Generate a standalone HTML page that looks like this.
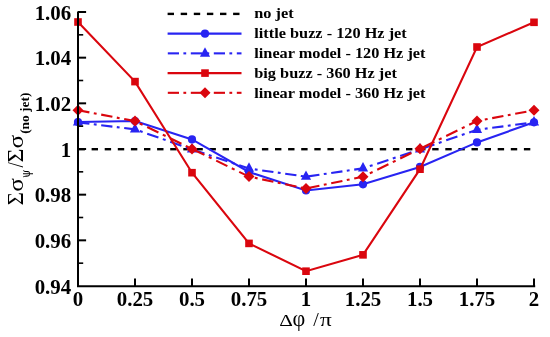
<!DOCTYPE html>
<html><head><meta charset="utf-8"><title>chart</title>
<style>
html,body{margin:0;padding:0;background:#fff;}
body{width:550px;height:337px;overflow:hidden;}
svg{display:block;}
</style></head><body>
<svg width="550" height="337" viewBox="0 0 550 337">
<rect width="550" height="337" fill="#fff"/>
<g font-family="Liberation Serif, serif" font-weight="bold" font-size="20" fill="#000">
<text transform="translate(71.2,293.60) scale(1.045,1)" text-anchor="end">0.94</text>
<text transform="translate(71.2,247.93) scale(1.045,1)" text-anchor="end">0.96</text>
<text transform="translate(71.2,202.27) scale(1.045,1)" text-anchor="end">0.98</text>
<text transform="translate(71.2,156.60) scale(1.045,1)" text-anchor="end">1</text>
<text transform="translate(71.2,110.93) scale(1.045,1)" text-anchor="end">1.02</text>
<text transform="translate(71.2,65.27) scale(1.045,1)" text-anchor="end">1.04</text>
<text transform="translate(71.2,19.60) scale(1.045,1)" text-anchor="end">1.06</text>
<text transform="translate(78,306.1) scale(1.045,1)" text-anchor="middle">0</text>
<text transform="translate(135,306.1) scale(1.045,1)" text-anchor="middle">0.25</text>
<text transform="translate(192,306.1) scale(1.045,1)" text-anchor="middle">0.5</text>
<text transform="translate(249,306.1) scale(1.045,1)" text-anchor="middle">0.75</text>
<text transform="translate(306,306.1) scale(1.045,1)" text-anchor="middle">1</text>
<text transform="translate(363,306.1) scale(1.045,1)" text-anchor="middle">1.25</text>
<text transform="translate(420,306.1) scale(1.045,1)" text-anchor="middle">1.5</text>
<text transform="translate(477,306.1) scale(1.045,1)" text-anchor="middle">1.75</text>
<text transform="translate(534,306.1) scale(1.045,1)" text-anchor="middle">2</text>
</g>
<g font-family="Liberation Serif, serif" fill="#000">
<text transform="translate(279.35,326.30) scale(1.200,1)" font-size="17.7" font-weight="normal">Δ</text>
<text transform="translate(292.60,326.30) scale(0.980,1)" font-size="22.5" font-weight="normal">φ</text>
<text transform="translate(313.29,326.30) scale(1.080,1)" font-size="18.5" font-weight="normal">/</text>
<text transform="translate(320.07,326.30) scale(1.300,1)" font-size="17.9" font-weight="normal">π</text>
</g>
<g transform="rotate(-90)" font-family="Liberation Serif, serif" fill="#000">
<text transform="translate(-205.20,22.50) scale(1.000,1)" font-size="22.6" font-weight="normal">Σ</text>
<text transform="translate(-191.81,23.20) scale(1.200,1)" font-size="21" font-weight="normal">σ</text>
<text transform="translate(-177.95,29.5) scale(0.86,1)" font-family="DejaVu Serif, serif" font-size="12.5">ψ</text>
<text transform="translate(-167.41,22.50) scale(0.850,1)" font-size="22.6" font-weight="normal">/</text>
<text transform="translate(-162.46,22.50) scale(1.060,1)" font-size="22.6" font-weight="normal">Σ</text>
<text transform="translate(-148.51,23.20) scale(1.200,1)" font-size="21" font-weight="normal">σ</text>
<text transform="translate(-133.84,28.50) scale(1.080,1)" font-size="12.4" font-weight="bold">(no jet)</text>
</g>
<g stroke="#000" stroke-width="2.4" fill="none"><line x1="78.50" y1="149.20" x2="84.90" y2="149.20"/><line x1="91.60" y1="149.20" x2="98.00" y2="149.20"/><line x1="104.70" y1="149.20" x2="111.10" y2="149.20"/><line x1="117.80" y1="149.20" x2="124.20" y2="149.20"/><line x1="130.90" y1="149.20" x2="137.30" y2="149.20"/><line x1="144.00" y1="149.20" x2="150.40" y2="149.20"/><line x1="157.10" y1="149.20" x2="163.50" y2="149.20"/><line x1="170.20" y1="149.20" x2="176.60" y2="149.20"/><line x1="183.30" y1="149.20" x2="189.70" y2="149.20"/><line x1="196.40" y1="149.20" x2="202.80" y2="149.20"/><line x1="209.50" y1="149.20" x2="215.90" y2="149.20"/><line x1="222.60" y1="149.20" x2="229.00" y2="149.20"/><line x1="235.70" y1="149.20" x2="242.10" y2="149.20"/><line x1="248.80" y1="149.20" x2="255.20" y2="149.20"/><line x1="261.90" y1="149.20" x2="268.30" y2="149.20"/><line x1="275.00" y1="149.20" x2="281.40" y2="149.20"/><line x1="288.10" y1="149.20" x2="294.50" y2="149.20"/><line x1="301.20" y1="149.20" x2="307.60" y2="149.20"/><line x1="314.30" y1="149.20" x2="320.70" y2="149.20"/><line x1="327.40" y1="149.20" x2="333.80" y2="149.20"/><line x1="340.50" y1="149.20" x2="346.90" y2="149.20"/><line x1="353.60" y1="149.20" x2="360.00" y2="149.20"/><line x1="366.70" y1="149.20" x2="373.10" y2="149.20"/><line x1="379.80" y1="149.20" x2="386.20" y2="149.20"/><line x1="392.90" y1="149.20" x2="399.30" y2="149.20"/><line x1="406.00" y1="149.20" x2="412.40" y2="149.20"/><line x1="419.10" y1="149.20" x2="425.50" y2="149.20"/><line x1="432.20" y1="149.20" x2="438.60" y2="149.20"/><line x1="445.30" y1="149.20" x2="451.70" y2="149.20"/><line x1="458.40" y1="149.20" x2="464.80" y2="149.20"/><line x1="471.50" y1="149.20" x2="477.90" y2="149.20"/><line x1="484.60" y1="149.20" x2="491.00" y2="149.20"/><line x1="497.70" y1="149.20" x2="504.10" y2="149.20"/><line x1="510.80" y1="149.20" x2="517.20" y2="149.20"/><line x1="523.90" y1="149.20" x2="530.30" y2="149.20"/></g>
<polyline points="78.00,122.00 135.00,121.00 192.00,139.40 249.00,172.00 306.00,190.50 363.00,184.30 420.00,166.90 477.00,142.40 534.00,122.30" fill="none" stroke="#2824f2" stroke-width="2.1"/>
<circle cx="78" cy="122" r="4.1" fill="#2824f2"/>
<circle cx="135" cy="121" r="4.1" fill="#2824f2"/>
<circle cx="192" cy="139.4" r="4.1" fill="#2824f2"/>
<circle cx="249" cy="172" r="4.1" fill="#2824f2"/>
<circle cx="306" cy="190.5" r="4.1" fill="#2824f2"/>
<circle cx="363" cy="184.3" r="4.1" fill="#2824f2"/>
<circle cx="420" cy="166.9" r="4.1" fill="#2824f2"/>
<circle cx="477" cy="142.4" r="4.1" fill="#2824f2"/>
<circle cx="534" cy="122.3" r="4.1" fill="#2824f2"/>
<g stroke="#2824f2" stroke-width="2.1" fill="none"><line x1="78.20" y1="122.39" x2="89.40" y2="123.77"/><line x1="93.80" y1="124.31" x2="96.60" y2="124.65"/><line x1="101.20" y1="125.22" x2="112.40" y2="126.59"/><line x1="116.80" y1="127.13" x2="119.60" y2="127.48"/><polyline points="124.20,128.04 135.00,129.37 135.40,129.51"/><line x1="139.80" y1="131.05" x2="142.60" y2="132.04"/><line x1="147.20" y1="133.65" x2="158.40" y2="137.58"/><line x1="162.80" y1="139.12" x2="165.60" y2="140.11"/><line x1="170.20" y1="141.72" x2="181.40" y2="145.65"/><line x1="185.80" y1="147.19" x2="188.60" y2="148.18"/><line x1="193.20" y1="149.77" x2="204.40" y2="153.55"/><line x1="208.80" y1="155.03" x2="211.60" y2="155.97"/><line x1="216.20" y1="157.52" x2="227.40" y2="161.29"/><line x1="231.80" y1="162.78" x2="234.60" y2="163.72"/><polyline points="239.20,165.27 249.00,168.57 250.40,168.77"/><line x1="254.80" y1="169.39" x2="257.60" y2="169.79"/><line x1="262.20" y1="170.45" x2="273.40" y2="172.04"/><line x1="277.80" y1="172.66" x2="280.60" y2="173.06"/><line x1="285.20" y1="173.71" x2="296.40" y2="175.31"/><line x1="300.80" y1="175.93" x2="303.60" y2="176.33"/><line x1="308.20" y1="176.35" x2="319.40" y2="174.72"/><line x1="323.80" y1="174.08" x2="326.60" y2="173.67"/><line x1="331.20" y1="173.00" x2="342.40" y2="171.37"/><line x1="346.80" y1="170.73" x2="349.60" y2="170.32"/><polyline points="354.20,169.65 363.00,168.37 365.40,167.57"/><line x1="369.80" y1="166.10" x2="372.60" y2="165.17"/><line x1="377.20" y1="163.64" x2="388.40" y2="159.90"/><line x1="392.80" y1="158.44" x2="395.60" y2="157.50"/><line x1="400.20" y1="155.97" x2="411.40" y2="152.24"/><line x1="415.80" y1="150.77" x2="418.60" y2="149.84"/><line x1="423.20" y1="148.27" x2="434.40" y2="144.42"/><line x1="438.80" y1="142.91" x2="441.60" y2="141.94"/><line x1="446.20" y1="140.36" x2="457.40" y2="136.51"/><line x1="461.80" y1="135.00" x2="464.60" y2="134.03"/><polyline points="469.20,132.45 477.00,129.77 480.40,129.33"/><line x1="484.80" y1="128.76" x2="487.60" y2="128.39"/><line x1="492.20" y1="127.80" x2="503.40" y2="126.34"/><line x1="507.80" y1="125.77" x2="510.60" y2="125.41"/><line x1="515.20" y1="124.81" x2="526.40" y2="123.36"/><line x1="530.80" y1="122.79" x2="533.60" y2="122.42"/></g>
<polygon points="78,116.10 83.10,125.50 72.90,125.50" fill="#2824f2"/>
<polygon points="135,123.10 140.10,132.50 129.90,132.50" fill="#2824f2"/>
<polygon points="192,143.10 197.10,152.50 186.90,152.50" fill="#2824f2"/>
<polygon points="249,162.30 254.10,171.70 243.90,171.70" fill="#2824f2"/>
<polygon points="306,170.40 311.10,179.80 300.90,179.80" fill="#2824f2"/>
<polygon points="363,162.10 368.10,171.50 357.90,171.50" fill="#2824f2"/>
<polygon points="420,143.10 425.10,152.50 414.90,152.50" fill="#2824f2"/>
<polygon points="477,123.50 482.10,132.90 471.90,132.90" fill="#2824f2"/>
<polygon points="534,116.10 539.10,125.50 528.90,125.50" fill="#2824f2"/>
<polyline points="78.00,22.00 135.00,81.60 192.00,172.70 249.00,243.40 306.00,271.20 363.00,254.85 420.00,169.20 477.00,47.00 534.00,22.30" fill="none" stroke="#da060e" stroke-width="2.1"/>
<rect x="74.20" y="18.20" width="7.6" height="7.6" fill="#da060e"/>
<rect x="131.20" y="77.80" width="7.6" height="7.6" fill="#da060e"/>
<rect x="188.20" y="168.90" width="7.6" height="7.6" fill="#da060e"/>
<rect x="245.20" y="239.60" width="7.6" height="7.6" fill="#da060e"/>
<rect x="302.20" y="267.40" width="7.6" height="7.6" fill="#da060e"/>
<rect x="359.20" y="251.05" width="7.6" height="7.6" fill="#da060e"/>
<rect x="416.20" y="165.40" width="7.6" height="7.6" fill="#da060e"/>
<rect x="473.20" y="43.20" width="7.6" height="7.6" fill="#da060e"/>
<rect x="530.20" y="18.50" width="7.6" height="7.6" fill="#da060e"/>
<g stroke="#da060e" stroke-width="2.1" fill="none"><line x1="78.20" y1="110.24" x2="89.40" y2="112.38"/><line x1="93.80" y1="113.22" x2="96.60" y2="113.76"/><line x1="101.20" y1="114.64" x2="112.40" y2="116.78"/><line x1="116.80" y1="117.62" x2="119.60" y2="118.16"/><polyline points="124.20,119.03 135.00,121.10 135.40,121.30"/><line x1="139.80" y1="123.44" x2="142.60" y2="124.81"/><line x1="147.20" y1="127.05" x2="158.40" y2="132.51"/><line x1="162.80" y1="134.66" x2="165.60" y2="136.02"/><line x1="170.20" y1="138.27" x2="181.40" y2="143.73"/><line x1="185.80" y1="145.88" x2="188.60" y2="147.24"/><line x1="193.20" y1="149.48" x2="204.40" y2="154.93"/><line x1="208.80" y1="157.06" x2="211.60" y2="158.42"/><line x1="216.20" y1="160.66" x2="227.40" y2="166.10"/><line x1="231.80" y1="168.24" x2="234.60" y2="169.60"/><polyline points="239.20,171.84 249.00,176.60 250.40,176.89"/><line x1="254.80" y1="177.81" x2="257.60" y2="178.40"/><line x1="262.20" y1="179.36" x2="273.40" y2="181.69"/><line x1="277.80" y1="182.61" x2="280.60" y2="183.20"/><line x1="285.20" y1="184.16" x2="296.40" y2="186.50"/><line x1="300.80" y1="187.41" x2="303.60" y2="188.00"/><line x1="308.20" y1="188.04" x2="319.40" y2="185.73"/><line x1="323.80" y1="184.82" x2="326.60" y2="184.24"/><line x1="331.20" y1="183.28" x2="342.40" y2="180.96"/><line x1="346.80" y1="180.05" x2="349.60" y2="179.47"/><polyline points="354.20,178.52 363.00,176.70 365.40,175.53"/><line x1="369.80" y1="173.37" x2="372.60" y2="172.00"/><line x1="377.20" y1="169.75" x2="388.40" y2="164.27"/><line x1="392.80" y1="162.11" x2="395.60" y2="160.74"/><line x1="400.20" y1="158.49" x2="411.40" y2="153.01"/><line x1="415.80" y1="150.86" x2="418.60" y2="149.49"/><line x1="423.20" y1="147.24" x2="434.40" y2="141.78"/><line x1="438.80" y1="139.63" x2="441.60" y2="138.27"/><line x1="446.20" y1="136.02" x2="457.40" y2="130.56"/><line x1="461.80" y1="128.41" x2="464.60" y2="127.05"/><polyline points="469.20,124.80 477.00,121.00 480.40,120.36"/><line x1="484.80" y1="119.54" x2="487.60" y2="119.01"/><line x1="492.20" y1="118.15" x2="503.40" y2="116.04"/><line x1="507.80" y1="115.22" x2="510.60" y2="114.69"/><line x1="515.20" y1="113.83" x2="526.40" y2="111.73"/><line x1="530.80" y1="110.90" x2="533.60" y2="110.38"/></g>
<polygon points="78,104.70 83.50,110.2 78,115.70 72.50,110.2" fill="#da060e"/>
<polygon points="135,115.60 140.50,121.1 135,126.60 129.50,121.1" fill="#da060e"/>
<polygon points="192,143.40 197.50,148.9 192,154.40 186.50,148.9" fill="#da060e"/>
<polygon points="249,171.10 254.50,176.6 249,182.10 243.50,176.6" fill="#da060e"/>
<polygon points="306,183.00 311.50,188.5 306,194.00 300.50,188.5" fill="#da060e"/>
<polygon points="363,171.20 368.50,176.7 363,182.20 357.50,176.7" fill="#da060e"/>
<polygon points="420,143.30 425.50,148.8 420,154.30 414.50,148.8" fill="#da060e"/>
<polygon points="477,115.50 482.50,121 477,126.50 471.50,121" fill="#da060e"/>
<polygon points="534,104.80 539.50,110.3 534,115.80 528.50,110.3" fill="#da060e"/>
<g stroke="#000" stroke-width="2" fill="none">
<line x1="78" y1="11.5" x2="78" y2="287"/>
<line x1="77" y1="286.3" x2="535.2" y2="286.3"/>
<line x1="78" y1="263.17" x2="83.2" y2="263.17" stroke-width="1.6"/>
<line x1="78" y1="240.33" x2="86.1" y2="240.33"/>
<line x1="78" y1="217.50" x2="83.2" y2="217.50" stroke-width="1.6"/>
<line x1="78" y1="194.67" x2="86.1" y2="194.67"/>
<line x1="78" y1="171.83" x2="83.2" y2="171.83" stroke-width="1.6"/>
<line x1="78" y1="149.00" x2="86.1" y2="149.00"/>
<line x1="78" y1="126.17" x2="83.2" y2="126.17" stroke-width="1.6"/>
<line x1="78" y1="103.33" x2="86.1" y2="103.33"/>
<line x1="78" y1="80.50" x2="83.2" y2="80.50" stroke-width="1.6"/>
<line x1="78" y1="57.67" x2="86.1" y2="57.67"/>
<line x1="78" y1="34.83" x2="83.2" y2="34.83" stroke-width="1.6"/>
<line x1="78" y1="12.00" x2="86.1" y2="12.00"/>
<line x1="135" y1="286.3" x2="135" y2="278.4"/>
<line x1="192" y1="286.3" x2="192" y2="278.4"/>
<line x1="249" y1="286.3" x2="249" y2="278.4"/>
<line x1="306" y1="286.3" x2="306" y2="278.4"/>
<line x1="363" y1="286.3" x2="363" y2="278.4"/>
<line x1="420" y1="286.3" x2="420" y2="278.4"/>
<line x1="477" y1="286.3" x2="477" y2="278.4"/>
<line x1="534" y1="286.3" x2="534" y2="278.4"/>
</g>
<g stroke="#000" stroke-width="2.4" fill="none"><line x1="167.60" y1="13.90" x2="174.00" y2="13.90"/><line x1="180.70" y1="13.90" x2="187.10" y2="13.90"/><line x1="193.80" y1="13.90" x2="200.20" y2="13.90"/><line x1="206.90" y1="13.90" x2="213.30" y2="13.90"/><line x1="220.00" y1="13.90" x2="226.40" y2="13.90"/><line x1="233.10" y1="13.90" x2="239.50" y2="13.90"/></g>
<line x1="167.6" y1="33.63" x2="241.5" y2="33.63" stroke="#2824f2" stroke-width="2.1"/>
<circle cx="205.0" cy="33.63" r="4.1" fill="#2824f2"/>
<g stroke="#2824f2" stroke-width="2.1" fill="none"><line x1="167.80" y1="53.36" x2="179.00" y2="53.36"/><line x1="183.40" y1="53.36" x2="186.20" y2="53.36"/><line x1="190.80" y1="53.36" x2="202.00" y2="53.36"/><line x1="206.40" y1="53.36" x2="209.20" y2="53.36"/><line x1="213.80" y1="53.36" x2="225.00" y2="53.36"/><line x1="229.40" y1="53.36" x2="232.20" y2="53.36"/><line x1="236.80" y1="53.36" x2="241.50" y2="53.36"/></g>
<polygon points="205.0,47.29 210.10,56.69 199.90,56.69" fill="#2824f2"/>
<line x1="167.6" y1="73.09" x2="241.5" y2="73.09" stroke="#da060e" stroke-width="2.1"/>
<rect x="201.20" y="69.29" width="7.6" height="7.6" fill="#da060e"/>
<g stroke="#da060e" stroke-width="2.1" fill="none"><line x1="167.80" y1="92.82" x2="179.00" y2="92.82"/><line x1="183.40" y1="92.82" x2="186.20" y2="92.82"/><line x1="190.80" y1="92.82" x2="202.00" y2="92.82"/><line x1="206.40" y1="92.82" x2="209.20" y2="92.82"/><line x1="213.80" y1="92.82" x2="225.00" y2="92.82"/><line x1="229.40" y1="92.82" x2="232.20" y2="92.82"/><line x1="236.80" y1="92.82" x2="241.50" y2="92.82"/></g>
<polygon points="205.0,87.32 210.50,92.82 205.0,98.32 199.50,92.82" fill="#da060e"/>
<g font-family="Liberation Serif, serif" font-weight="bold" font-size="14.3" fill="#000">
<text transform="translate(254.27,18.40) scale(1.14,1)">no jet</text>
<text transform="translate(254.27,38.20) scale(1.14,1)">little buzz - 120 Hz jet</text>
<text transform="translate(254.27,58.00) scale(1.14,1)">linear model - 120 Hz jet</text>
<text transform="translate(254.27,77.80) scale(1.14,1)">big buzz - 360 Hz jet</text>
<text transform="translate(254.27,97.60) scale(1.14,1)">linear model - 360 Hz jet</text>
</g>
</svg>
</body></html>
